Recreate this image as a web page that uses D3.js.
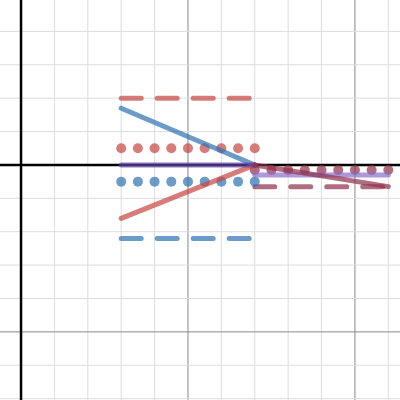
<!DOCTYPE html>
<html><head><meta charset="utf-8">
<script src="https://cdn.jsdelivr.net/npm/d3@7"></script>
<style>body{margin:0}svg{display:block;background:#fff}</style>
</head><body><div id="chart"></div>
<script>
const W = 400, H = 400
const xDomain = [-0.63, 11.35]
const yDomain = [-7.04, 4.94]

// segments: [x1, y1, x2, y2]
const solidSegs = [
  { p: [3, 1.7, 7, 0], color: '#2d70b3' },
  { p: [3, -1.6, 7, 0], color: '#c74440' },
  { p: [3, 0, 7, 0], color: '#6042a6' },
  { p: [7, -0.3, 11, -0.3], color: '#8a6cc9' },
  { p: [7, 0, 11, -0.65], color: '#8e2f4a' }
]
const dashedSegs = [
  { p: [3, 2, 7, 2], color: '#c74440' },
  { p: [3, -2.2, 7, -2.2], color: '#2d70b3' },
  { p: [7, -0.65, 11, -0.65], color: '#8e2f4a' }
]
const dotRows = [
  { y: 0.5, xs: [3, 3.5, 4, 4.5, 5, 5.5, 6, 6.5, 7], color: '#c74440' },
  { y: -0.5, xs: [3, 3.5, 4, 4.5, 5, 5.5, 6, 6.5, 7], color: '#2d70b3' },
  { y: -0.15, xs: [7, 7.5, 8, 8.5, 9, 9.5, 10, 10.5, 11], color: '#8e2f4a' }
]

const x = d3.scaleLinear().domain(xDomain).range([0, W])
const y = d3.scaleLinear().domain(yDomain).range([H, 0])

const svg = d3.select('#chart').append('svg').attr('width', W).attr('height', H)

const minor = d3.range(-1, 12)
const minorY = d3.range(-7, 5)
svg.append('g').selectAll('line').data(minor).join('line')
  .attr('x1', d => x(d)).attr('x2', d => x(d)).attr('y1', 0).attr('y2', H)
  .attr('stroke', d => d % 5 === 0 ? '#888' : '#ddd').attr('stroke-width', 1)
svg.append('g').selectAll('line').data(minorY).join('line')
  .attr('y1', d => y(d)).attr('y2', d => y(d)).attr('x1', 0).attr('x2', W)
  .attr('stroke', d => d % 5 === 0 ? '#888' : '#ddd').attr('stroke-width', 1)

svg.append('line').attr('x1', x(0)).attr('x2', x(0)).attr('y1', 0).attr('y2', H)
  .attr('stroke', '#000').attr('stroke-width', 2.5)
svg.append('line').attr('y1', y(0)).attr('y2', y(0)).attr('x1', 0).attr('x2', W)
  .attr('stroke', '#000').attr('stroke-width', 2.5)

const seg = (sel, data, dash) => sel.selectAll(null).data(data).join('line')
  .attr('x1', d => x(d.p[0])).attr('y1', d => y(d.p[1]))
  .attr('x2', d => x(d.p[2])).attr('y2', d => y(d.p[3]))
  .attr('stroke', d => d.color).attr('stroke-width', 5)
  .attr('stroke-opacity', 0.7).attr('stroke-linecap', 'round')
  .attr('stroke-dasharray', dash)

seg(svg.append('g'), dashedSegs, '20 16')

dotRows.forEach(r => {
  svg.append('g').selectAll('circle').data(r.xs).join('circle')
    .attr('cx', d => x(d)).attr('cy', y(r.y)).attr('r', 5)
    .attr('fill', r.color).attr('fill-opacity', 0.7)
})

seg(svg.append('g'), solidSegs, null)
</script></body></html>
